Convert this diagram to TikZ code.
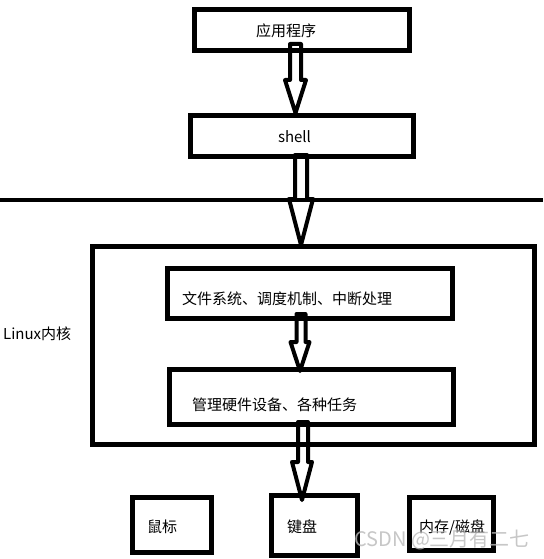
\documentclass[tikz,border=0pt]{standalone}
\usepackage{fontspec}
\newfontfamily\cjk{Noto Sans CJK SC}
\usetikzlibrary{calc}
\tikzset{
  box/.style={draw=black, line width=5pt, inner sep=0pt, outer sep=0pt},
  txt/.style={font=\cjk\fontsize{15}{18}\selectfont, inner sep=0pt, anchor=west, text=black},
  barrow/.style={draw=black, line width=4pt, line join=round, line cap=round},
  wmark/.style={font=\cjk\fontsize{20}{23}\selectfont, inner sep=0pt, anchor=west, text=gray!55, opacity=0.8}
}
\newcommand\blockarrow[5]{%
  \draw[barrow] let \p1=(#1), \p2=(#2) in
    (\x1-#4,\y1) -- (\x1+#4,\y1) -- (\x1+#4,\y2+#3) -- (\x2+#5,\y2+#3) --
    (\x2,\y2) -- (\x2-#5,\y2+#3) -- (\x1-#4,\y2+#3) -- cycle;}
\begin{document}
\begin{tikzpicture}[x=1pt,y=-1pt]
\useasboundingbox (0,0) rectangle (543,559);
\fill[white] (0,0) rectangle (543,559);
% boxes
\node[box, minimum width=215pt, minimum height=41pt] (app) at (302,30) {};
\node[box, minimum width=223pt, minimum height=41pt] (shell) at (302,136) {};
\node[box, minimum width=442pt, minimum height=198pt] (kernel) at (313.5,345.5) {};
\node[box, minimum width=284.5pt, minimum height=50pt] (fs) at (309.75,293.5) {};
\node[box, minimum width=284pt, minimum height=55.5pt] (hw) at (311.5,396.75) {};
\node[box, minimum width=79pt, minimum height=55pt] (mouse) at (172,525) {};
\node[box, minimum width=86pt, minimum height=60pt] (kbd) at (314.5,525.5) {};
\node[box, minimum width=84pt, minimum height=53pt] (mem) at (451.5,524) {};
% texts
\node[txt, anchor=center] (tapp) at (286,31) {应用程序};
\node[txt, anchor=center] (tshell) at (294.5,137) {shell};
\node[txt] (tkernel) at (3,334) {Linux内核};
\node[txt] (tfs) at (182,299) {文件系统、调度机制、中断处理};
\node[txt] (thw) at (192,405) {管理硬件设备、各种任务};
\node[txt] (tmouse) at (147,527) {鼠标};
\node[txt] (tkbd) at (287,527) {键盘};
\node[txt] (tmem) at (419,527) {内存/磁盘};
% separator line
\coordinate (lineL) at (0,200);
\coordinate (lineR) at (543,200);
\draw[line width=4pt] (lineL) -- (lineR);
% block arrows
\coordinate (a1s) at (295.5,44);  \coordinate (a1e) at (295.5,113);
\coordinate (a2s) at (301,155);   \coordinate (a2e) at (301,245);
\coordinate (a3s) at (301,314);   \coordinate (a3e) at (300,371);
\coordinate (a4s) at (303,422);   \coordinate (a4e) at (302,500);
\blockarrow{a1s}{a1e}{33pt}{5.5pt}{10.5pt}
\blockarrow{a2s}{a2e}{46pt}{6pt}{12pt}
\blockarrow{a3s}{a3e}{29pt}{4.5pt}{9.5pt}
\blockarrow{a4s}{a4e}{38pt}{5pt}{10pt}
% watermark
\node[wmark] (wm) at (354,540) {CSDN @三月有二七};
\end{tikzpicture}
\end{document}
